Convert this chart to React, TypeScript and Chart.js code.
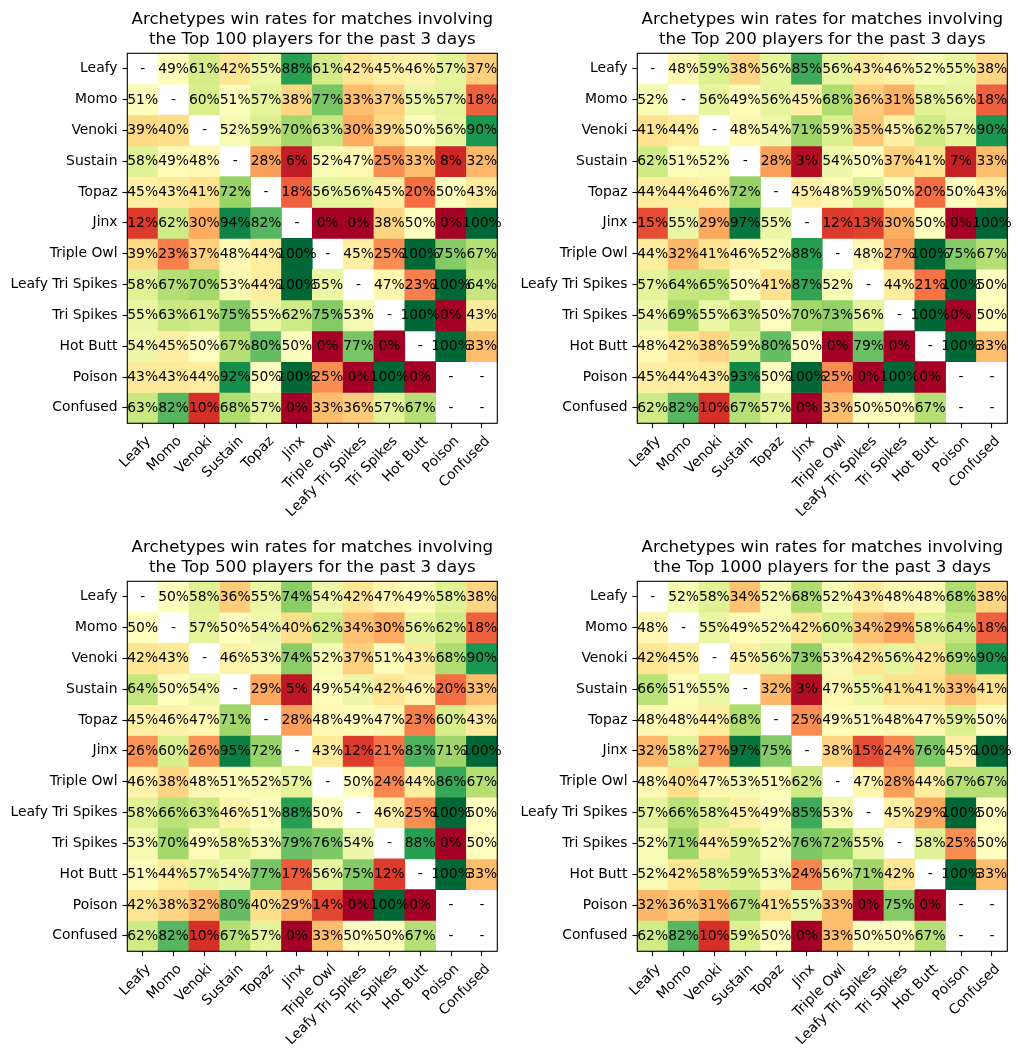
import { useEffect, useRef } from "react";
import { Chart, registerables } from "chart.js";

Chart.register(...registerables);

// Archetype names, used for both the rows (player archetype) and the columns (opponent)
const archetypes = [
  "Leafy",
  "Momo",
  "Venoki",
  "Sustain",
  "Topaz",
  "Jinx",
  "Triple Owl",
  "Leafy Tri Spikes",
  "Tri Spikes",
  "Hot Butt",
  "Poison",
  "Confused",
];

const N = null;

// Win rates (%) per row archetype against each column archetype; null = no data
const top100 = [
  [N, 49, 61, 42, 55, 88, 61, 42, 45, 46, 57, 37],
  [51, N, 60, 51, 57, 38, 77, 33, 37, 55, 57, 18],
  [39, 40, N, 52, 59, 70, 63, 30, 39, 50, 56, 90],
  [58, 49, 48, N, 28, 6, 52, 47, 25, 33, 8, 32],
  [45, 43, 41, 72, N, 18, 56, 56, 45, 20, 50, 43],
  [12, 62, 30, 94, 82, N, 0, 0, 38, 50, 0, 100],
  [39, 23, 37, 48, 44, 100, N, 45, 25, 100, 75, 67],
  [58, 67, 70, 53, 44, 100, 55, N, 47, 23, 100, 64],
  [55, 63, 61, 75, 55, 62, 75, 53, N, 100, 0, 43],
  [54, 45, 50, 67, 80, 50, 0, 77, 0, N, 100, 33],
  [43, 43, 44, 92, 50, 100, 25, 0, 100, 0, N, N],
  [63, 82, 10, 68, 57, 0, 33, 36, 57, 67, N, N],
];

const top200 = [
  [N, 48, 59, 38, 56, 85, 56, 43, 46, 52, 55, 38],
  [52, N, 56, 49, 56, 45, 68, 36, 31, 58, 56, 18],
  [41, 44, N, 48, 54, 71, 59, 35, 45, 62, 57, 90],
  [62, 51, 52, N, 28, 3, 54, 50, 37, 41, 7, 33],
  [44, 44, 46, 72, N, 45, 48, 59, 50, 20, 50, 43],
  [15, 55, 29, 97, 55, N, 12, 13, 30, 50, 0, 100],
  [44, 32, 41, 46, 52, 88, N, 48, 27, 100, 75, 67],
  [57, 64, 65, 50, 41, 87, 52, N, 44, 21, 100, 50],
  [54, 69, 55, 63, 50, 70, 73, 56, N, 100, 0, 50],
  [48, 42, 38, 59, 80, 50, 0, 79, 0, N, 100, 33],
  [45, 44, 43, 93, 50, 100, 25, 0, 100, 0, N, N],
  [62, 82, 10, 67, 57, 0, 33, 50, 50, 67, N, N],
];

const top500 = [
  [N, 50, 58, 36, 55, 74, 54, 42, 47, 49, 58, 38],
  [50, N, 57, 50, 54, 40, 62, 34, 30, 56, 62, 18],
  [42, 43, N, 46, 53, 74, 52, 37, 51, 43, 68, 90],
  [64, 50, 54, N, 29, 5, 49, 54, 42, 46, 20, 33],
  [45, 46, 47, 71, N, 28, 48, 49, 47, 23, 60, 43],
  [26, 60, 26, 95, 72, N, 43, 12, 21, 83, 71, 100],
  [46, 38, 48, 51, 52, 57, N, 50, 24, 44, 86, 67],
  [58, 66, 63, 46, 51, 88, 50, N, 46, 25, 100, 50],
  [53, 70, 49, 58, 53, 79, 76, 54, N, 88, 0, 50],
  [51, 44, 57, 54, 77, 17, 56, 75, 12, N, 100, 33],
  [42, 38, 32, 80, 40, 29, 14, 0, 100, 0, N, N],
  [62, 82, 10, 67, 57, 0, 33, 50, 50, 67, N, N],
];

const top1000 = [
  [N, 52, 58, 34, 52, 68, 52, 43, 48, 48, 68, 38],
  [48, N, 55, 49, 52, 42, 60, 34, 29, 58, 64, 18],
  [42, 45, N, 45, 56, 73, 53, 42, 56, 42, 69, 90],
  [66, 51, 55, N, 32, 3, 47, 55, 41, 41, 33, 41],
  [48, 48, 44, 68, N, 25, 49, 51, 48, 47, 59, 50],
  [32, 58, 27, 97, 75, N, 38, 15, 24, 76, 45, 100],
  [48, 40, 47, 53, 51, 62, N, 47, 28, 44, 67, 67],
  [57, 66, 58, 45, 49, 85, 53, N, 45, 29, 100, 50],
  [52, 71, 44, 59, 52, 76, 72, 55, N, 58, 25, 50],
  [52, 42, 58, 59, 53, 24, 56, 71, 42, N, 100, 33],
  [32, 36, 31, 67, 41, 55, 33, 0, 75, 0, N, N],
  [62, 82, 10, 59, 50, 0, 33, 50, 50, 67, N, N],
];

const playerTiers = [100, 200, 500, 1000];
const tierRates = [top100, top200, top500, top1000];

// RdYlGn colour stops (ColorBrewer), sampled like a 256-entry lookup table
const RDYLGN = [
  [165, 0, 38],
  [215, 48, 39],
  [244, 109, 67],
  [253, 174, 97],
  [254, 224, 139],
  [255, 255, 191],
  [217, 239, 139],
  [166, 217, 106],
  [102, 189, 99],
  [26, 152, 80],
  [0, 104, 55],
];

function rdylgn(v: number): string {
  const idx = Math.min(255, Math.max(0, Math.floor(v * 256)));
  const t = (idx / 255) * 10;
  const i = Math.min(9, Math.floor(t));
  const f = t - i;
  const a = RDYLGN[i];
  const b = RDYLGN[i + 1];
  const c = a.map((av, k) => Math.round(av + (b[k] - av) * f));
  return `rgb(${c[0]},${c[1]},${c[2]})`;
}

const FONT_FAMILY = '"DejaVu Sans", sans-serif';
const TICK_SIZE = 13.89;
const TITLE_SIZE = 16.67;

const CANVAS_W = 510;
const CANVAS_H = 528;
const AREA_LEFT = 127.3;
const AREA_TOP = 53.3;
const AREA_RIGHT = 497.3;
const AREA_BOTTOM = 423.3;

// Writes each cell's win rate in the middle of its bar segment
const cellLabels = {
  id: "cellLabels",
  afterDatasetsDraw(chart: any) {
    const ctx = chart.ctx;
    ctx.save();
    ctx.font = `${TICK_SIZE}px ${FONT_FAMILY}`;
    ctx.fillStyle = "#000";
    ctx.textAlign = "center";
    ctx.textBaseline = "middle";
    chart.data.datasets.forEach((ds: any, r: number) => {
      const meta = chart.getDatasetMeta(r);
      meta.data.forEach((el: any, c: number) => {
        const v = ds.rates[c];
        const { x, y, base } = el.getProps(["x", "y", "base"], true);
        ctx.fillText(v === null ? "-" : `${v}%`, x, (y + base) / 2 + 0.5);
      });
    });
    ctx.restore();
  },
};

// Frame around the plot area and the two-line title above it
const frameAndTitle = {
  id: "frameAndTitle",
  afterDraw(chart: any, _args: any, opts: any) {
    const { ctx, chartArea } = chart;
    ctx.save();
    ctx.strokeStyle = "#000";
    ctx.lineWidth = 1.1;
    ctx.strokeRect(
      chartArea.left,
      chartArea.top,
      chartArea.right - chartArea.left,
      chartArea.bottom - chartArea.top
    );
    ctx.fillStyle = "#000";
    ctx.font = `${TITLE_SIZE}px ${FONT_FAMILY}`;
    ctx.textAlign = "center";
    ctx.textBaseline = "alphabetic";
    const cx = (chartArea.left + chartArea.right) / 2;
    const lines: string[] = opts.lines || [];
    ctx.fillText(lines[0], cx, chartArea.top - 29.5);
    ctx.fillText(lines[1], cx, chartArea.top - 9);
    ctx.restore();
  },
};

function Heatmap({ tier, rates, left, top }: { tier: number; rates: (number | null)[][]; left: number; top: number }) {
  const ref = useRef<HTMLCanvasElement | null>(null);

  useEffect(() => {
    if (!ref.current) return;
    const datasets = rates.map((row, r) => ({
      label: archetypes[r],
      data: archetypes.map(() => 1),
      rates: row,
      backgroundColor: row.map((v) => (v === null ? "rgba(255,255,255,0)" : rdylgn(v / 100))),
      borderWidth: 0,
      barPercentage: 1,
      categoryPercentage: 1,
      stack: "cells",
    }));

    const chart = new Chart(ref.current, {
      type: "bar",
      data: { labels: archetypes, datasets: datasets as any },
      options: {
        animation: false,
        responsive: false,
        devicePixelRatio: 1,
        layout: {
          padding: { left: 0, top: AREA_TOP, right: CANVAS_W - AREA_RIGHT, bottom: 0 },
        },
        plugins: {
          legend: { display: false },
          tooltip: { enabled: false },
          title: { display: false },
          frameAndTitle: {
            lines: [
              "Archetypes win rates for matches involving",
              `the Top ${tier} players for the past 3 days`,
            ],
          },
        } as any,
        scales: {
          x: {
            type: "category",
            stacked: true,
            offset: true,
            grid: {
              display: true,
              drawOnChartArea: false,
              drawTicks: true,
              tickLength: 4.9,
              tickWidth: 1.1,
              tickColor: "#000",
              offset: false,
            },
            border: { display: false },
            ticks: {
              autoSkip: false,
              minRotation: 45,
              maxRotation: 45,
              padding: 4.9,
              labelOffset: 5.9,
              color: "#000",
              font: { family: FONT_FAMILY, size: TICK_SIZE },
            },
            afterFit: (scale: any) => {
              scale.height = CANVAS_H - AREA_BOTTOM;
            },
          },
          y: {
            type: "linear",
            stacked: true,
            reverse: true,
            min: 0,
            max: archetypes.length,
            grid: {
              display: true,
              drawOnChartArea: false,
              drawTicks: true,
              tickLength: 4.9,
              tickWidth: 1.1,
              tickColor: "#000",
            },
            border: { display: false },
            afterBuildTicks: (scale: any) => {
              scale.ticks = archetypes.map((_, i) => ({ value: i + 0.5 }));
            },
            ticks: {
              autoSkip: false,
              padding: 4.9,
              color: "#000",
              font: { family: FONT_FAMILY, size: TICK_SIZE },
              callback: (_v: any, i: number) => archetypes[i],
            },
            afterFit: (scale: any) => {
              scale.width = AREA_LEFT;
            },
          },
        },
      },
      plugins: [cellLabels, frameAndTitle],
    });
    return () => chart.destroy();
  }, [tier, rates]);

  return (
    <canvas
      ref={ref}
      width={CANVAS_W}
      height={CANVAS_H}
      style={{ position: "absolute", left, top, width: CANVAS_W, height: CANVAS_H }}
    />
  );
}

export default function App() {
  return (
    <div style={{ position: "absolute", left: 0, top: 0, width: 1020, height: 1056, background: "#fff" }}>
      {playerTiers.map((tier, i) => (
        <Heatmap
          key={tier}
          tier={tier}
          rates={tierRates[i]}
          left={(i % 2) * CANVAS_W}
          top={Math.floor(i / 2) * CANVAS_H}
        />
      ))}
    </div>
  );
}
